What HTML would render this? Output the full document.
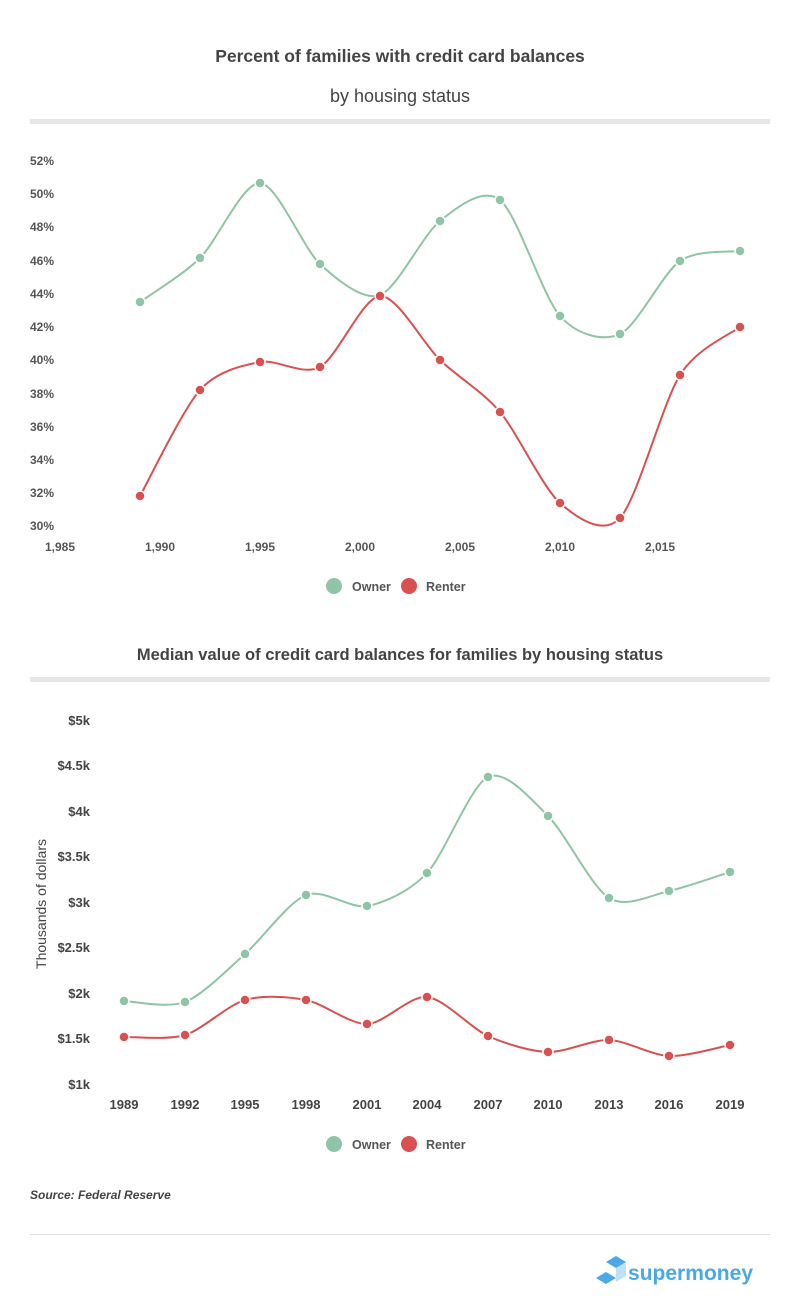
<!DOCTYPE html>
<html><head><meta charset="utf-8"><style>
body{margin:0;background:#fff;font-family:"Liberation Sans",sans-serif;}
svg text{font-family:"Liberation Sans",sans-serif;}
</style></head><body>
<svg id="s" width="800" height="1306" xmlns="http://www.w3.org/2000/svg">
<rect width="800" height="1306" fill="#fff"/>
<text x="400" y="62" text-anchor="middle" font-size="17.5" font-weight="bold" fill="#444">Percent of families with credit card balances</text>
<text x="400" y="102" text-anchor="middle" font-size="18" fill="#444">by housing status</text>
<rect x="30" y="119" width="740" height="5" fill="#e6e6e6"/>
<g font-size="12" fill="#555" font-weight="bold">
<text x="54" y="165" text-anchor="end">52%</text><text x="54" y="198" text-anchor="end">50%</text>
<text x="54" y="231" text-anchor="end">48%</text><text x="54" y="265" text-anchor="end">46%</text>
<text x="54" y="298" text-anchor="end">44%</text><text x="54" y="331" text-anchor="end">42%</text>
<text x="54" y="364" text-anchor="end">40%</text><text x="54" y="398" text-anchor="end">38%</text>
<text x="54" y="431" text-anchor="end">36%</text><text x="54" y="464" text-anchor="end">34%</text>
<text x="54" y="497" text-anchor="end">32%</text><text x="54" y="530" text-anchor="end">30%</text>
<text x="60" y="551" text-anchor="middle">1,985</text><text x="160" y="551" text-anchor="middle">1,990</text>
<text x="260" y="551" text-anchor="middle">1,995</text><text x="360" y="551" text-anchor="middle">2,000</text>
<text x="460" y="551" text-anchor="middle">2,005</text><text x="560" y="551" text-anchor="middle">2,010</text>
<text x="660" y="551" text-anchor="middle">2,015</text>
</g>
<circle cx="334" cy="586" r="8" fill="#8fc4a6"/><text x="352" y="591" font-size="12.5" font-weight="bold" fill="#555">Owner</text>
<circle cx="409" cy="586" r="8" fill="#d95050"/><text x="426" y="591" font-size="12.5" font-weight="bold" fill="#555">Renter</text>

<text x="400" y="660" text-anchor="middle" font-size="16.5" font-weight="bold" fill="#444">Median value of credit card balances for families by housing status</text>
<rect x="30" y="677" width="740" height="5" fill="#e6e6e6"/>
<g font-size="13" fill="#444" font-weight="bold">
<text x="90" y="725" text-anchor="end">$5k</text><text x="90" y="770" text-anchor="end">$4.5k</text>
<text x="90" y="816" text-anchor="end">$4k</text><text x="90" y="861" text-anchor="end">$3.5k</text>
<text x="90" y="907" text-anchor="end">$3k</text><text x="90" y="952" text-anchor="end">$2.5k</text>
<text x="90" y="998" text-anchor="end">$2k</text><text x="90" y="1043" text-anchor="end">$1.5k</text>
<text x="90" y="1089" text-anchor="end">$1k</text>
</g>
<text transform="translate(46,904) rotate(-90)" text-anchor="middle" font-size="14" fill="#444">Thousands of dollars</text>
<g font-size="13" fill="#444" font-weight="bold" text-anchor="middle">
<text x="124" y="1109">1989</text><text x="185" y="1109">1992</text><text x="245" y="1109">1995</text>
<text x="306" y="1109">1998</text><text x="367" y="1109">2001</text><text x="427" y="1109">2004</text>
<text x="488" y="1109">2007</text><text x="548" y="1109">2010</text><text x="609" y="1109">2013</text>
<text x="669" y="1109">2016</text><text x="730" y="1109">2019</text>
</g>
<circle cx="334" cy="1144" r="8" fill="#8fc4a6"/><text x="352" y="1149" font-size="12.5" font-weight="bold" fill="#555">Owner</text>
<circle cx="409" cy="1144" r="8" fill="#d95050"/><text x="426" y="1149" font-size="12.5" font-weight="bold" fill="#555">Renter</text>
<text x="30" y="1199" font-size="12" font-weight="bold" font-style="italic" fill="#444">Source: Federal Reserve</text>
<rect x="30" y="1234" width="740" height="1" fill="#ddd"/>
<polygon points="606,1262 616,1256 626,1262 616,1268" fill="#4aa8e6"/>
<polygon points="616,1268 626,1262 626,1276 616,1282" fill="#bfe0f5"/>
<polygon points="596,1278 606,1272 616,1278 606,1284" fill="#4aa8e6"/>
<text x="628" y="1280" font-size="21" font-weight="bold" fill="#4aa8e6" textLength="125">supermoney</text>
<g id="g"></g>
</svg>
<script>
function path(p){let d="M"+p[0][0]+","+p[0][1];for(let i=0;i<p.length-1;i++){const a=p[i-1]||p[i],b=p[i],c=p[i+1],e=p[i+2]||c;const t=7;d+=" C"+(b[0]+(c[0]-a[0])/t)+","+(b[1]+(c[1]-a[1])/t)+" "+(c[0]-(e[0]-b[0])/t)+","+(c[1]-(e[1]-b[1])/t)+" "+c[0]+","+c[1];}return d;}
const S=[
[[[140,302],[200,258],[260,183],[320,264],[380,295],[440,221],[500,200],[560,316],[620,334],[680,261],[740,251]],"#8fc4a6"],
[[[140,496],[200,390],[260,362],[320,367],[380,296],[440,360],[500,412],[560,503],[620,518],[680,375],[740,327]],"#d95050"],
[[[124,1001],[185,1002],[245,954],[306,895],[367,906],[427,873],[488,777],[548,816],[609,898],[669,891],[730,872]],"#8fc4a6"],
[[[124,1037],[185,1035],[245,1000],[306,1000],[367,1024],[427,997],[488,1036],[548,1052],[609,1040],[669,1056],[730,1045]],"#d95050"]];
let h="";for(const [p,c] of S){h+='<path d="'+path(p)+'" fill="none" stroke="'+c+'" stroke-width="2"/>';for(const q of p)h+='<circle cx="'+q[0]+'" cy="'+q[1]+'" r="5" fill="'+c+'" stroke="#fff" stroke-width="1.5"/>';}
document.getElementById("g").innerHTML=h;
</script>
</body></html>
